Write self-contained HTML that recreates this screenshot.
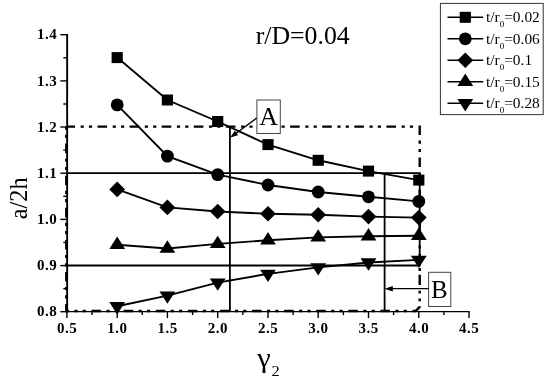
<!DOCTYPE html>
<html><head><meta charset="utf-8"><title>chart</title>
<style>
html,body{margin:0;padding:0;background:#fff;}
body{width:550px;height:382px;overflow:hidden;}
svg{display:block;font-family:"Liberation Serif",serif;fill:#000;}
.tk{font-weight:bold;font-size:15px;letter-spacing:0.5px;}
</style></head><body>
<svg width="550" height="382" viewBox="0 0 550 382">
<rect x="0" y="0" width="550" height="382" fill="#fff"/>

<path d="M67.15,34.1 V312.3" stroke="#000" stroke-width="1.9" fill="none"/>
<path d="M66.25,311.6 H469.6" stroke="#000" stroke-width="1.4" fill="none"/>
<g stroke="#000" stroke-width="1.4" fill="none">
<path d="M67.2,34.7 h-6.9"/>
<path d="M67.2,57.8 h-3.9"/>
<path d="M67.2,80.9 h-6.9"/>
<path d="M67.2,104.0 h-3.9"/>
<path d="M67.2,127.0 h-6.9"/>
<path d="M67.2,150.1 h-3.9"/>
<path d="M67.2,173.2 h-6.9"/>
<path d="M67.2,196.3 h-3.9"/>
<path d="M67.2,219.4 h-6.9"/>
<path d="M67.2,242.5 h-3.9"/>
<path d="M67.2,265.6 h-6.9"/>
<path d="M67.2,288.6 h-3.9"/>
<path d="M67.2,311.7 h-6.9"/>
<path d="M66.9,311.6 v6.5"/>
<path d="M92.0,311.6 v3.5"/>
<path d="M117.2,311.6 v6.5"/>
<path d="M142.3,311.6 v3.5"/>
<path d="M167.4,311.6 v6.5"/>
<path d="M192.6,311.6 v3.5"/>
<path d="M217.7,311.6 v6.5"/>
<path d="M242.8,311.6 v3.5"/>
<path d="M268.0,311.6 v6.5"/>
<path d="M293.1,311.6 v3.5"/>
<path d="M318.2,311.6 v6.5"/>
<path d="M343.4,311.6 v3.5"/>
<path d="M368.5,311.6 v6.5"/>
<path d="M393.6,311.6 v3.5"/>
<path d="M418.8,311.6 v6.5"/>
<path d="M443.9,311.6 v3.5"/>
<path d="M469.0,311.6 v6.5"/>
</g>
<text class="tk" x="57.2" y="39.3" text-anchor="end">1.4</text>
<text class="tk" x="57.2" y="85.5" text-anchor="end">1.3</text>
<text class="tk" x="57.2" y="131.6" text-anchor="end">1.2</text>
<text class="tk" x="57.2" y="177.8" text-anchor="end">1.1</text>
<text class="tk" x="57.2" y="224.0" text-anchor="end">1.0</text>
<text class="tk" x="57.2" y="270.2" text-anchor="end">0.9</text>
<text class="tk" x="57.2" y="316.3" text-anchor="end">0.8</text>
<text class="tk" x="67.1" y="332.8" text-anchor="middle">0.5</text>
<text class="tk" x="117.4" y="332.8" text-anchor="middle">1.0</text>
<text class="tk" x="167.6" y="332.8" text-anchor="middle">1.5</text>
<text class="tk" x="217.9" y="332.8" text-anchor="middle">2.0</text>
<text class="tk" x="268.2" y="332.8" text-anchor="middle">2.5</text>
<text class="tk" x="318.4" y="332.8" text-anchor="middle">3.0</text>
<text class="tk" x="368.7" y="332.8" text-anchor="middle">3.5</text>
<text class="tk" x="419.0" y="332.8" text-anchor="middle">4.0</text>
<text class="tk" x="469.2" y="332.8" text-anchor="middle">4.5</text>
<g stroke="#000" stroke-width="1.8" fill="none">
<path d="M67.2,173.2 H419.7 V265.5 H67.2"/>
<path d="M229.9,127.0 V311.6"/>
<path d="M384.6,173.2 V311.6"/>
</g>
<g fill="none" stroke="#000" stroke-width="2.4" stroke-dasharray="9.6 5.6 3.2 5.1 3.2 5.4">
<path d="M67.2,126.6 H419.7 V265" stroke-dashoffset="1.8"/>
<path d="M419.7,265 V306.2" stroke-dasharray="0 2.9 3.2 3.6 10.2 5.9 2.8 4.9 2.8 4.9"/>
<path d="M419.7,306.2 V306.8 L415.7,311 H66.3 V126.6" stroke-linejoin="round"/>
</g>
<polyline points="117.2,57.6 167.4,100.0 217.7,121.5 268.0,144.6 318.2,160.3 368.5,171.1 418.8,180.1" fill="none" stroke="#000" stroke-width="1.9"/>
<rect x="111.6" y="52.1" width="11.2" height="11"/>
<rect x="161.8" y="94.5" width="11.2" height="11"/>
<rect x="212.1" y="116.0" width="11.2" height="11"/>
<rect x="262.4" y="139.1" width="11.2" height="11"/>
<rect x="312.6" y="154.8" width="11.2" height="11"/>
<rect x="362.9" y="165.6" width="11.2" height="11"/>
<rect x="413.2" y="174.6" width="11.2" height="11"/>
<polyline points="117.2,104.9 167.4,156.1 217.7,174.6 268.0,185.0 318.2,192.0 368.5,196.8 418.8,201.4" fill="none" stroke="#000" stroke-width="1.9"/>
<circle cx="117.2" cy="104.9" r="6.4"/>
<circle cx="167.4" cy="156.1" r="6.4"/>
<circle cx="217.7" cy="174.6" r="6.4"/>
<circle cx="268.0" cy="185.0" r="6.4"/>
<circle cx="318.2" cy="192.0" r="6.4"/>
<circle cx="368.5" cy="196.8" r="6.4"/>
<circle cx="418.8" cy="201.4" r="6.4"/>
<polyline points="117.2,189.4 167.4,207.4 217.7,211.5 268.0,213.8 318.2,214.8 368.5,216.6 418.8,217.6" fill="none" stroke="#000" stroke-width="1.9"/>
<polygon points="109.3,189.4 117.2,181.6 125.1,189.4 117.2,197.2"/>
<polygon points="159.5,207.4 167.4,199.6 175.3,207.4 167.4,215.2"/>
<polygon points="209.8,211.5 217.7,203.7 225.6,211.5 217.7,219.3"/>
<polygon points="260.1,213.8 268.0,206.0 275.9,213.8 268.0,221.6"/>
<polygon points="310.3,214.8 318.2,207.0 326.1,214.8 318.2,222.6"/>
<polygon points="360.6,216.6 368.5,208.8 376.4,216.6 368.5,224.4"/>
<polygon points="410.9,217.6 418.8,209.8 426.7,217.6 418.8,225.4"/>
<polyline points="117.2,244.8 167.4,248.5 217.7,243.9 268.0,240.2 318.2,237.4 368.5,236.2 418.8,235.7" fill="none" stroke="#000" stroke-width="1.9"/>
<polygon points="109.3,249.0 117.2,236.6 125.1,249.0"/>
<polygon points="159.5,252.7 167.4,240.3 175.3,252.7"/>
<polygon points="209.8,248.1 217.7,235.7 225.6,248.1"/>
<polygon points="260.1,244.4 268.0,232.0 275.9,244.4"/>
<polygon points="310.3,241.6 318.2,229.2 326.1,241.6"/>
<polygon points="360.6,240.4 368.5,228.0 376.4,240.4"/>
<polygon points="410.9,239.9 418.8,227.5 426.7,239.9"/>
<polyline points="117.2,306.2 167.4,295.6 217.7,282.6 268.0,273.9 318.2,267.4 368.5,262.5 418.8,259.9" fill="none" stroke="#000" stroke-width="1.9"/>
<polygon points="109.3,302.0 117.2,314.4 125.1,302.0"/>
<polygon points="159.5,291.4 167.4,303.8 175.3,291.4"/>
<polygon points="209.8,278.4 217.7,290.8 225.6,278.4"/>
<polygon points="260.1,269.7 268.0,282.1 275.9,269.7"/>
<polygon points="310.3,263.2 318.2,275.6 326.1,263.2"/>
<polygon points="360.6,258.3 368.5,270.7 376.4,258.3"/>
<polygon points="410.9,255.7 418.8,268.1 426.7,255.7"/>
<rect x="256.9" y="100" width="23.4" height="33.5" fill="#fff" stroke="#444" stroke-width="1"/>
<text transform="translate(268.7,125) scale(1.06,1)" font-size="24.5" text-anchor="middle">A</text>
<path d="M256.7,118 L232,136.2" stroke="#000" stroke-width="1.4" fill="none"/>
<polygon points="230.2,137.5 234.8,130.7 238.1,135.2"/>
<rect x="428.6" y="272.3" width="22.2" height="34.2" fill="#fff" stroke="#444" stroke-width="1"/>
<text x="439.3" y="297.8" font-size="25" text-anchor="middle">B</text>
<path d="M428.6,288.7 H387.5" stroke="#000" stroke-width="1.2" fill="none"/>
<polygon points="384.6,288.7 392.8,286.0 392.8,291.4"/>
<text x="255.7" y="44" font-size="25" textLength="94" lengthAdjust="spacingAndGlyphs">r/D=0.04</text>
<text transform="translate(26.6,198.3) rotate(-90)" font-size="24.4" text-anchor="middle">a/2h</text>
<text transform="translate(257.2,367.2) scale(1.09,0.99)" font-size="28">γ</text>
<text transform="translate(271.5,375.6) scale(1.1,1)" font-size="15">2</text>
<rect x="440.4" y="3.4" width="102.8" height="111.2" fill="#fff" stroke="#333" stroke-width="1"/>
<path d="M447.5,17.3 H483.2" stroke="#000" stroke-width="1.6"/>
<rect x="459.7" y="11.8" width="11.2" height="11"/>
<text x="486" y="22.3" font-size="15.4">t/r<tspan font-size="9" dy="5">0</tspan><tspan dy="-5">=0.02</tspan></text>
<path d="M447.5,38.8 H483.2" stroke="#000" stroke-width="1.6"/>
<circle cx="465.3" cy="38.8" r="6.4"/>
<text x="486" y="43.8" font-size="15.4">t/r<tspan font-size="9" dy="5">0</tspan><tspan dy="-5">=0.06</tspan></text>
<path d="M447.5,60.3 H483.2" stroke="#000" stroke-width="1.6"/>
<polygon points="457.4,60.3 465.3,52.5 473.2,60.3 465.3,68.1"/>
<text x="486" y="65.3" font-size="15.4">t/r<tspan font-size="9" dy="5">0</tspan><tspan dy="-5">=0.1</tspan></text>
<path d="M447.5,81.8 H483.2" stroke="#000" stroke-width="1.6"/>
<polygon points="457.4,86.0 465.3,73.6 473.2,86.0"/>
<text x="486" y="86.8" font-size="15.4">t/r<tspan font-size="9" dy="5">0</tspan><tspan dy="-5">=0.15</tspan></text>
<path d="M447.5,103.3 H483.2" stroke="#000" stroke-width="1.6"/>
<polygon points="457.4,99.1 465.3,111.5 473.2,99.1"/>
<text x="486" y="108.3" font-size="15.4">t/r<tspan font-size="9" dy="5">0</tspan><tspan dy="-5">=0.28</tspan></text>
</svg></body></html>
